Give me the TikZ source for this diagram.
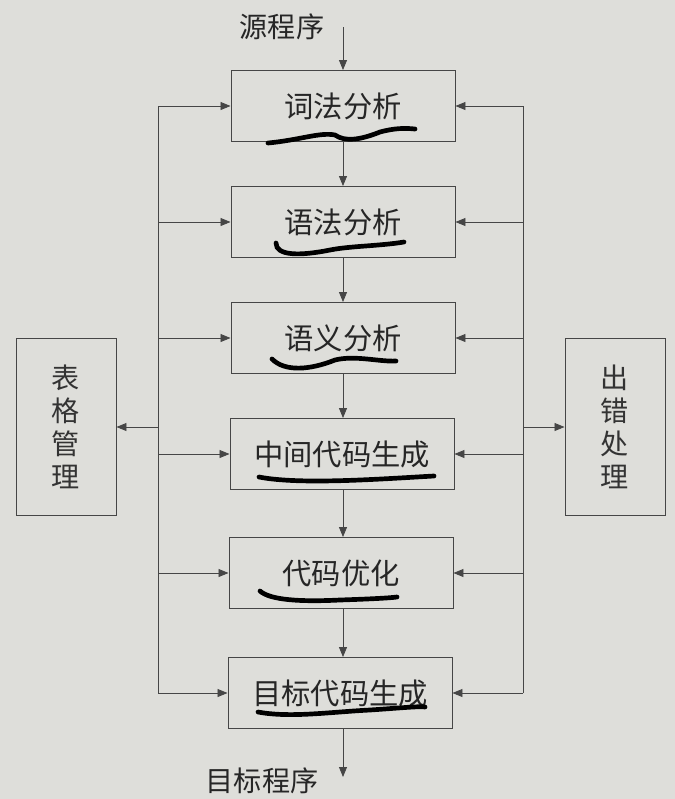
\documentclass[tikz,border=0pt]{standalone}
\usepackage{fontspec}
\newfontfamily\cjk{Noto Sans CJK SC}
\usetikzlibrary{arrows.meta}
\definecolor{paper}{RGB}{222,222,218}
\definecolor{ink}{RGB}{70,70,70}
\tikzset{
  stage/.style={draw=ink, line width=0.8pt, minimum width=6.72cm, minimum height=2.13cm, font=\cjk\fontsize{25pt}{28pt}\selectfont, text=black!85, inner sep=0pt},
  side/.style={draw=ink, line width=0.8pt, minimum width=3.0cm, minimum height=5.3cm, font=\cjk\fontsize{24pt}{28pt}\selectfont, text=black!80, align=center, inner sep=0pt},
  link/.style={draw=ink, line width=0.7pt},
  arr/.style={link, -{Triangle[length=3mm,width=2.4mm]}},
  pen/.style={line width=4pt, line cap=round, black},
  lbl/.style={font=\cjk\fontsize{24pt}{28pt}\selectfont, text=black!85, inner sep=0pt}
}
\begin{document}
\begin{tikzpicture}[x=0.03cm, y=-0.03cm]
\fill[paper] (0,0) rectangle (675,799);
\useasboundingbox (0,0) rectangle (675,799);

\node[lbl] (src) at (282,27) {源程序};
\node[lbl] (dst) at (262,781) {目标程序};

\node[stage] (s1) at (343,106) {词法分析};
\node[stage] (s2) at (343,222) {语法分析};
\node[stage] (s3) at (343,338) {语义分析};
\node[stage] (s4) at (342,454) {中间代码生成};
\node[stage] (s5) at (341,573) {代码优化};
\node[stage] (s6) at (340,693) {目标代码生成};

\node[side] (tab) at (66,427) {表\\格\\管\\理};
\node[side] (err) at (615,427) {出\\错\\处\\理};

\coordinate (srcend) at (343,27);
\coordinate (dstend) at (343,777);
\coordinate (L1) at (158,106);
\coordinate (L6) at (158,693);
\coordinate (LT) at (158,427);
\coordinate (R1) at (523,106);
\coordinate (R6) at (523,693);
\coordinate (RT) at (523,427);

% main flow
\draw[arr] (srcend) -- (s1.north);
\draw[arr] (s1.south) -- (s2.north);
\draw[arr] (s2.south) -- (s3.north);
\draw[arr] (s3.south) -- (s4.north -| s3.south);
\draw[arr] (s4.south -| s3.south) -- (s5.north -| s3.south);
\draw[arr] (s5.south -| s3.south) -- (s6.north -| s3.south);
\draw[arr] (s6.south -| s3.south) -- (dstend);

% left bus
\draw[link] (L1) -- (L6);
\foreach \s in {s1,s2,s3,s4,s5,s6} {
  \draw[arr] (L1 |- \s.west) -- (\s.west);
}
\draw[arr] (LT) -- (tab.east |- LT);

% right bus
\draw[link] (R1) -- (R6);
\foreach \s in {s1,s2,s3,s4,s5,s6} {
  \draw[arr] (R1 |- \s.east) -- (\s.east);
}
\draw[arr] (RT) -- (err.west |- RT);

% handwritten underlines
\draw[pen] (268,143) .. controls (300,140) and (320,132) .. (335,135) .. controls (345,142) and (360,140) .. (380,132) .. controls (395,128) and (405,128) .. (415,129);
\draw[pen] (276,243) .. controls (276,256) and (300,256) .. (330,250) .. controls (350,246) and (380,246) .. (404,242);
\draw[pen] (272,359) .. controls (285,372) and (310,370) .. (335,360) .. controls (355,355) and (380,362) .. (396,361);
\draw[pen] (259,477) .. controls (300,485) and (380,479) .. (434,476);
\draw[pen] (260,591) .. controls (270,600) and (300,602) .. (340,600) .. controls (370,599) and (390,598) .. (397,597);
\draw[pen] (258,712) .. controls (290,718) and (330,712) .. (370,710) .. controls (400,708) and (420,706) .. (425,707);
\end{tikzpicture}
\end{document}
